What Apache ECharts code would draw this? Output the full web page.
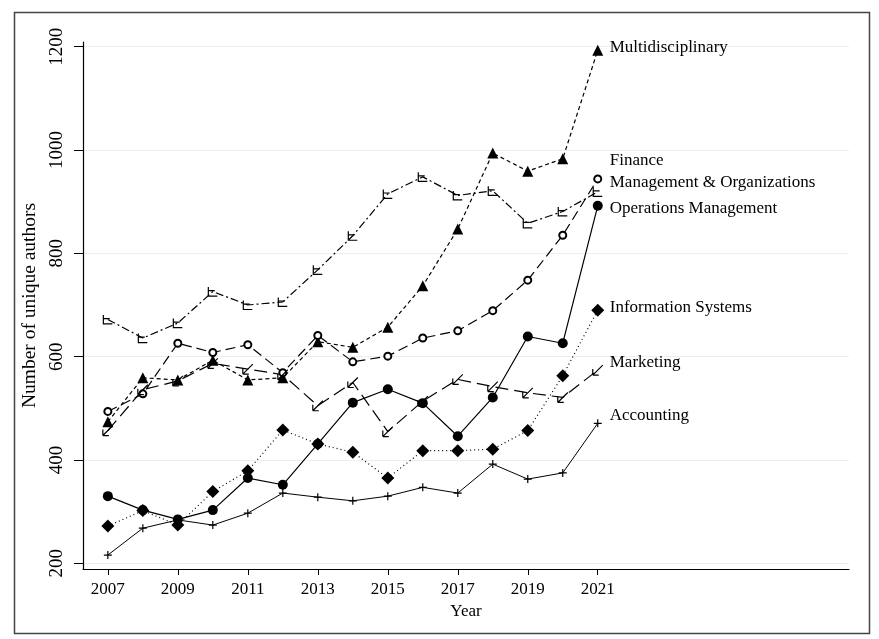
<!DOCTYPE html>
<html>
<head>
<meta charset="utf-8">
<script src="https://cdn.jsdelivr.net/npm/echarts@6/dist/echarts.min.js"></script>
<style>html,body{margin:0;padding:0;background:#fff;}#c{width:879px;height:639px;}</style>
</head>
<body>
<div id="c"></div>
<script>
var years = [2007,2008,2009,2010,2011,2012,2013,2014,2015,2016,2017,2018,2019,2020,2021];
var xTicks = [2007,2009,2011,2013,2015,2017,2019,2021];
var yTicks = [200,400,600,800,1000,1200];
var seriesNames = ['Multidisciplinary','Finance','Management & Organizations','Operations Management','Information Systems','Marketing','Accounting'];
var multidisciplinary = [474,559,555,593,555,559,629,618,657,737,847,994,959,983,1193];
var finance = [672,636,665,726,700,706,768,834,915,948,912,921,858,881,919];
var managementOrg = [494,528,626,608,623,569,641,590,601,636,650,689,748,835,944];
var operations = [330,303,285,303,365,352,431,511,537,510,446,521,639,626,892];
var infoSystems = [272,302,274,339,379,458,431,415,365,418,418,421,457,563,690];
var marketing = [457,536,553,587,576,565,505,550,455,514,556,542,530,521,574];
var accounting = [216,268,284,274,297,336,328,321,330,347,336,392,363,375,471];

function pairs(vals){ return years.map(function(y,i){ return [y, vals[i]]; }); }

var font = 'Liberation Serif';
var outline = {color:'rgba(0,0,0,0)', borderColor:'#000', borderWidth:1.2};
var solid = {color:'#000'};

function mk(name, vals, opt){
  return {
    type:'line', name:name, data:pairs(vals),
    symbol:opt.symbol, symbolSize:opt.size,
    itemStyle:opt.item,
    lineStyle:{color:'#000', width:opt.width||1.2, type:opt.dash},
    endLabel:{show:true, formatter:'{a}', color:'#000', fontFamily:font, fontSize:17, offset:opt.off, distance:8},
    z: opt.z || 2
  };
}

var chart = echarts.init(document.getElementById('c'));
chart.setOption({
  animation:false,
  backgroundColor:'#fff',
  graphic:[{type:'rect', left:12, top:10, shape:{width:855, height:621}, style:{fill:'none', stroke:'#444', lineWidth:1.5}, silent:true}],
  grid:{left:83, right:30, top:42, bottom:70},
  xAxis:{
    type:'value', min:2006.29, max:2028.18,
    name:'Year', nameLocation:'middle', nameGap:30,
    nameTextStyle:{fontFamily:font, fontSize:17, color:'#000'},
    axisLine:{show:true, lineStyle:{color:'#000', width:1.2}},
    axisTick:{show:true, length:6, customValues:xTicks, lineStyle:{color:'#000'}},
    axisLabel:{customValues:xTicks, fontFamily:font, fontSize:17, color:'#000', margin:12, formatter:function(v){return String(v);}},
    splitLine:{show:false}
  },
  yAxis:{
    type:'value', min:189, max:1209,
    name:'Number of unique authors', nameLocation:'middle', nameGap:28,
    nameTextStyle:{fontFamily:font, fontSize:19.5, color:'#000'},
    axisLine:{show:true, lineStyle:{color:'#000', width:1.2}},
    axisTick:{show:true, length:9, customValues:yTicks, lineStyle:{color:'#000'}},
    axisLabel:{customValues:yTicks, rotate:90, fontFamily:font, fontSize:19, color:'#000', margin:16, formatter:function(v){return String(v);}},
    splitLine:{show:true, lineStyle:{color:'#e8f0f0', width:1}}
  },
  series:[
    mk(seriesNames[0], multidisciplinary, {symbol:'triangle', size:11, item:solid, dash:[4,3], off:[4,-3]}),
    mk(seriesNames[1], finance, {symbol:'path://M0,0 L0,10 L7,10 M0,4 L5,4', size:9, item:outline, dash:[8,3,2,3], off:[4,-31]}),
    mk(seriesNames[2], managementOrg, {symbol:'emptyCircle', size:7, item:{color:'#000', borderWidth:1.2}, dash:[10,5], off:[4,4]}),
    mk(seriesNames[3], operations, {symbol:'circle', size:10, item:solid, dash:'solid', off:[4,3]}),
    mk(seriesNames[4], infoSystems, {symbol:'diamond', size:13, item:solid, dash:[1,3], off:[4,-3]}),
    mk(seriesNames[5], marketing, {symbol:'path://M0,10 L10,0 M0,10 L0,4 M0,10 L6,10', size:10, item:outline, dash:[13,6], off:[4,-8]}),
    mk(seriesNames[6], accounting, {symbol:'path://M5,0 L5,10 M0,5 L10,5', size:8, item:outline, dash:'solid', width:1, off:[4,-8]})
  ]
});
</script>
</body>
</html>
